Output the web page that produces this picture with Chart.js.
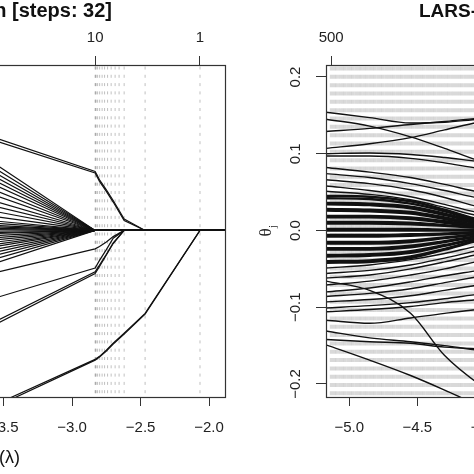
<!DOCTYPE html>
<html>
<head>
<meta charset="utf-8">
<script src="https://cdn.jsdelivr.net/npm/chart.js@4.4.1/dist/chart.umd.min.js"></script>
<style>
html, body { margin: 0; padding: 0; background: #fff; overflow: hidden; width: 474px; height: 474px; position: relative; }
canvas { position: absolute; top: 0; }
#left { left: -10px; }
#right { left: 226px; }
</style>
</head>
<body>
<canvas id="left" width="240" height="474"></canvas>
<canvas id="right" width="280" height="474"></canvas>
<script>
// ---- left panel: log(lambda) breakpoints and coefficient values ----
const leftX = [-3.6, -2.832, -2.80, -2.75, -2.70, -2.62, -2.467, -2.066, -1.876];
const leftPaths = [
    [0.123, 0.077, 0.066, 0.053, 0.039, 0.015, 0, 0, 0],
    [0.119, 0.075, 0.064, 0.051, 0.037, 0.013, 0, 0, 0],
    [0.091, 0, 0, 0, 0, 0, 0, 0, 0],
    [0.085, 0, 0, 0, 0, 0, 0, 0, 0],
    [0.079, 0, 0, 0, 0, 0, 0, 0, 0],
    [0.0735, 0, 0, 0, 0, 0, 0, 0, 0],
    [0.068, 0, 0, 0, 0, 0, 0, 0, 0],
    [0.062, 0, 0, 0, 0, 0, 0, 0, 0],
    [0.055, 0, 0, 0, 0, 0, 0, 0, 0],
    [0.048, 0, 0, 0, 0, 0, 0, 0, 0],
    [0.040, 0, 0, 0, 0, 0, 0, 0, 0],
    [0.033, 0, 0, 0, 0, 0, 0, 0, 0],
    [0.026, 0, 0, 0, 0, 0, 0, 0, 0],
    [0.019, 0, 0, 0, 0, 0, 0, 0, 0],
    [0.013, 0, 0, 0, 0, 0, 0, 0, 0],
    [0.010, 0, 0, 0, 0, 0, 0, 0, 0],
    [0.007, 0, 0, 0, 0, 0, 0, 0, 0],
    [0.005, 0, 0, 0, 0, 0, 0, 0, 0],
    [0.003, 0, 0, 0, 0, 0, 0, 0, 0],
    [0.001, 0, 0, 0, 0, 0, 0, 0, 0],
    [-0.001, 0, 0, 0, 0, 0, 0, 0, 0],
    [-0.003, 0, 0, 0, 0, 0, 0, 0, 0],
    [-0.004, 0, 0, 0, 0, 0, 0, 0, 0],
    [-0.007, 0, 0, 0, 0, 0, 0, 0, 0],
    [-0.010, 0, 0, 0, 0, 0, 0, 0, 0],
    [-0.013, 0, 0, 0, 0, 0, 0, 0, 0],
    [-0.016, 0, 0, 0, 0, 0, 0, 0, 0],
    [-0.019, 0, 0, 0, 0, 0, 0, 0, 0],
    [-0.022, 0, 0, 0, 0, 0, 0, 0, 0],
    [-0.026, 0, 0, 0, 0, 0, 0, 0, 0],
    [-0.030, 0, 0, 0, 0, 0, 0, 0, 0],
    [-0.034, 0, 0, 0, 0, 0, 0, 0, 0],
    [-0.039, 0, 0, 0, 0, 0, 0, 0, 0],
    [-0.045, 0, 0, 0, 0, 0, 0, 0, 0],
    [-0.0565, -0.024, -0.021, -0.015, -0.008, 0, 0, 0, 0],
    [-0.090, -0.049, -0.039, -0.025, -0.010, 0, 0, 0, 0],
    [-0.126, -0.056, -0.047, -0.032, -0.017, 0, 0, 0, 0],
    [-0.122, -0.054, -0.045, -0.031, -0.016, 0, 0, 0, 0],
    [-0.233, -0.169, -0.165, -0.157, -0.148, -0.135, -0.109, 0, 0],
    [-0.230, -0.168, -0.164, -0.156, -0.147, -0.134, -0.108, 0, 0]
];
const leftSteps = [-2.832, -2.829, -2.825, -2.814, -2.799, -2.781, -2.763, -2.741, -2.715, -2.686, -2.657, -2.620, -2.467, -2.066];
const leftBottomTicks = [-3.5, -3.0, -2.5, -2.0];
const leftTopTicks = [-2.832, -2.066];
const leftTopLabels = ['10', '1'];

// ---- right panel ----
const rightX = [-5.17, -4.85, -4.55, -4.3, -4.05, -3.85];
const rightPaths = [
    [0.154, 0.147, 0.140, 0.141, 0.145, 0.147],
    [0.145, 0.136, 0.122, 0.107, 0.091, 0.083],
    [0.129, 0.133, 0.138, 0.142, 0.146, 0.148],
    [0.107, 0.113, 0.121, 0.131, 0.141, 0.146],
    [0.100, 0.101, 0.099, 0.095, 0.090, 0.087],
    [0.097, 0.097, 0.094, 0.088, 0.081, 0.077],
    [0.082, 0.076, 0.069, 0.060, 0.050, 0.044],
    [0.074, 0.069, 0.061, 0.052, 0.042, 0.036],
    [0.066, 0.061, 0.053, 0.043, 0.031, 0.025],
    [0.058, 0.052, 0.044, 0.034, 0.023, 0.017],
    [0.051, 0.047, 0.040, 0.030, 0.019, 0.013],
    [-0.049, -0.045, -0.038, -0.030, -0.020, -0.014],
    [-0.056, -0.052, -0.045, -0.036, -0.026, -0.019],
    [-0.062, -0.058, -0.050, -0.041, -0.031, -0.024],
    [-0.071, -0.066, -0.058, -0.050, -0.040, -0.033],
    [-0.080, -0.075, -0.067, -0.059, -0.052, -0.046],
    [-0.086, -0.082, -0.076, -0.068, -0.060, -0.054],
    [-0.093, -0.090, -0.085, -0.078, -0.071, -0.066],
    [-0.101, -0.098, -0.094, -0.089, -0.083, -0.079],
    [-0.106, -0.103, -0.099, -0.094, -0.090, -0.086],
    [-0.066, -0.078, -0.108, -0.163, -0.200, -0.222],
    [-0.117, -0.121, -0.114, -0.108, -0.103, -0.101],
    [-0.131, -0.140, -0.145, -0.150, -0.156, -0.158],
    [-0.142, -0.145, -0.147, -0.152, -0.154, -0.155],
    [-0.149, -0.169, -0.189, -0.208, -0.228, -0.242]
];
// the dense, nearly flat bundle around zero
const rightBand = [
    [0.045, 0.044, 0.038, 0.027, 0.014, 0.006],
    [0.042, 0.041, 0.035, 0.025, 0.012, 0.005],
    [0.036, 0.035, 0.031, 0.022, 0.011, 0.005],
    [0.034, 0.033, 0.029, 0.020, 0.010, 0.004],
    [0.028, 0.027, 0.024, 0.017, 0.009, 0.004],
    [0.026, 0.025, 0.022, 0.015, 0.007, 0.003],
    [0.019, 0.019, 0.017, 0.012, 0.006, 0.003],
    [0.017, 0.017, 0.015, 0.010, 0.005, 0.002],
    [0.011, 0.011, 0.010, 0.007, 0.004, 0.002],
    [0.009, 0.009, 0.008, 0.006, 0.003, 0.001],
    [0.002, 0.002, 0.002, 0.001, 0.001, 0.000],
    [0.000, 0.000, 0.000, 0.000, 0.000, 0.000],
    [-0.006, -0.006, -0.005, -0.004, -0.002, -0.001],
    [-0.008, -0.008, -0.007, -0.005, -0.003, -0.001],
    [-0.015, -0.015, -0.013, -0.009, -0.005, -0.002],
    [-0.017, -0.017, -0.015, -0.010, -0.005, -0.002],
    [-0.023, -0.023, -0.020, -0.014, -0.007, -0.003],
    [-0.025, -0.025, -0.022, -0.015, -0.008, -0.003],
    [-0.032, -0.031, -0.027, -0.019, -0.010, -0.004],
    [-0.034, -0.033, -0.029, -0.020, -0.010, -0.004],
    [-0.040, -0.039, -0.034, -0.024, -0.012, -0.005],
    [-0.042, -0.041, -0.036, -0.025, -0.013, -0.005]
];
const rightSteps = [-5.132, -5.112, -5.093, -5.071, -5.05, -5.031, -5.01, -4.99, -4.971, -4.95, -4.93, -4.911, -4.89,
    -4.871, -4.85, -4.83, -4.811, -4.79, -4.77, -4.751, -4.73, -4.71, -4.69, -4.671, -4.65, -4.63, -4.611, -4.59,
    -4.57, -4.55, -4.531, -4.51, -4.49, -4.47, -4.451, -4.43, -4.41, -4.39, -4.371, -4.35, -4.33, -4.31, -4.29,
    -4.271, -4.25, -4.23, -4.21, -4.19, -4.171, -4.15, -4.13, -4.11, -4.09, -4.07, -4.05, -4.03, -4.01, -3.99,
    -3.97, -3.95, -3.93, -3.91, -3.89, -3.87];
const rightBottomTicks = [-5.0, -4.5, -4.0];
const rightTopTicks = [-5.132];
const rightTopLabels = ['500'];
const rightYTicks = [0.2, 0.1, 0.0, -0.1, -0.2];

const yMin = -0.217, yMax = 0.2156;
const font = 'Liberation Sans';
const fmt = v => (v < -1e-9 ? '\u2212' : '') + Math.abs(v).toFixed(1);

function pathSets(xs, paths, width, smooth) {
    return paths.map(p => ({
        data: xs.map((x, i) => ({ x: x, y: p[i] })),
        borderColor: '#111',
        borderWidth: width,
        pointRadius: 0,
        fill: false,
        cubicInterpolationMode: smooth ? 'monotone' : 'default',
        tension: 0
    }));
}

function stepSets(steps, color, width, dash) {
    return steps.map(s => ({
        data: [{ x: s, y: yMax }, { x: s, y: yMin }],
        borderColor: color,
        borderWidth: width,
        borderDash: dash,
        borderDashOffset: -1.5,
        borderCapStyle: 'butt',
        pointRadius: 0,
        fill: false
    }));
}

function xScale(min, max, pos, ticks, labels, h) {
    return {
        type: 'linear', position: pos, min: min, max: max,
        afterFit: s => { s.height = h; s.paddingLeft = 0; s.paddingRight = 0; },
        afterBuildTicks: s => { s.ticks = ticks.map(v => ({ value: v })); },
        grid: { drawOnChartArea: false, tickLength: 9, color: '#333', tickColor: '#333' },
        border: { display: false },
        ticks: {
            maxRotation: 0, minRotation: 0, autoSkip: false,
            padding: pos === 'top' ? 9 : 13,
            color: '#222',
            font: { family: font, size: 15 },
            callback: (v, i) => labels ? labels[i] : fmt(v)
        }
    };
}

const frame = {
    id: 'frame',
    afterDatasetsDraw(chart) {
        const { ctx, chartArea: a } = chart;
        ctx.save();
        ctx.strokeStyle = '#333';
        ctx.lineWidth = 1.2;
        ctx.strokeRect(Math.round(a.left) + 0.5, Math.round(a.top) + 0.5, Math.round(a.right - a.left) - 1, Math.round(a.bottom - a.top));
        ctx.restore();
    }
};

const leftText = {
    id: 'leftText',
    afterDraw(chart) {
        const ctx = chart.ctx;
        ctx.save();
        ctx.fillStyle = '#111';
        ctx.font = 'bold 20px "' + font + '"';
        ctx.textAlign = 'right';
        ctx.textBaseline = 'alphabetic';
        ctx.fillText('LARS path [steps: 32]', 122, 17);
        ctx.font = '18px "' + font + '"';
        ctx.fillText('log(\u03bb)', 30, 463);
        ctx.restore();
    }
};

const rightText = {
    id: 'rightText',
    afterDraw(chart) {
        const ctx = chart.ctx;
        const s = chart.scales.y;
        ctx.save();
        ctx.fillStyle = '#111';
        ctx.font = 'bold 19px "' + font + '"';
        ctx.textAlign = 'left';
        ctx.textBaseline = 'alphabetic';
        ctx.fillText('LARS-EN path [steps: 500]', 193, 17);
        ctx.fillStyle = '#222';
        ctx.font = '15px "' + font + '"';
        ctx.textAlign = 'center';
        ctx.textBaseline = 'middle';
        s.ticks.forEach(t => {
            ctx.save();
            ctx.translate(70, s.getPixelForValue(t.value));
            ctx.rotate(-Math.PI / 2);
            ctx.fillText(fmt(t.value), 0, 0);
            ctx.restore();
        });
        ctx.translate(41, s.getPixelForValue(0));
        ctx.rotate(-Math.PI / 2);
        ctx.font = '17px "Liberation Serif"';
        ctx.fillText('\u03b8', -2, 0);
        ctx.font = '11px "Liberation Serif"';
        ctx.fillText('j', 4, 6);
        ctx.restore();
    }
};

Chart.defaults.animation = false;
Chart.defaults.devicePixelRatio = 1;

const leftChart = new Chart(document.getElementById('left').getContext('2d'), {
    type: 'line',
    data: { datasets: pathSets(leftX, leftPaths, 1.2, false).concat(stepSets(leftSteps, 'rgba(150,150,150,0.6)', 1, [3, 5.3])) },
    options: {
        responsive: false,
        layout: { padding: { left: 0, right: 4, top: 0, bottom: 0 } },
        plugins: { legend: { display: false }, tooltip: { enabled: false } },
        scales: {
            x: xScale(-3.6, -1.876, 'bottom', leftBottomTicks, null, 77),
            x2: xScale(-3.6, -1.876, 'top', leftTopTicks, leftTopLabels, 65),
            y: { display: false, min: yMin, max: yMax }
        }
    },
    plugins: [frame, leftText]
});

const rightChart = new Chart(document.getElementById('right').getContext('2d'), {
    type: 'line',
    data: {
        datasets: pathSets(rightX, rightPaths, 1.4, true)
            .concat(pathSets(rightX, rightBand, 2.4, true))
            .concat(stepSets(rightSteps, 'rgba(120,120,120,0.28)', 2.8, [4, 4.33]))
    },
    options: {
        responsive: false,
        plugins: { legend: { display: false }, tooltip: { enabled: false } },
        scales: {
            x: xScale(-5.17, -3.85, 'bottom', rightBottomTicks, null, 77),
            x2: xScale(-5.17, -3.85, 'top', rightTopTicks, rightTopLabels, 65),
            y: {
                type: 'linear', position: 'left', min: yMin, max: yMax,
                afterFit: s => { s.width = 100; },
                afterBuildTicks: s => { s.ticks = rightYTicks.map(v => ({ value: v })); },
                grid: { drawOnChartArea: false, tickLength: 10, color: '#333', tickColor: '#333' },
                border: { display: false },
                ticks: { display: false }
            }
        }
    },
    plugins: [frame, rightText]
});
</script>
</body>
</html>
